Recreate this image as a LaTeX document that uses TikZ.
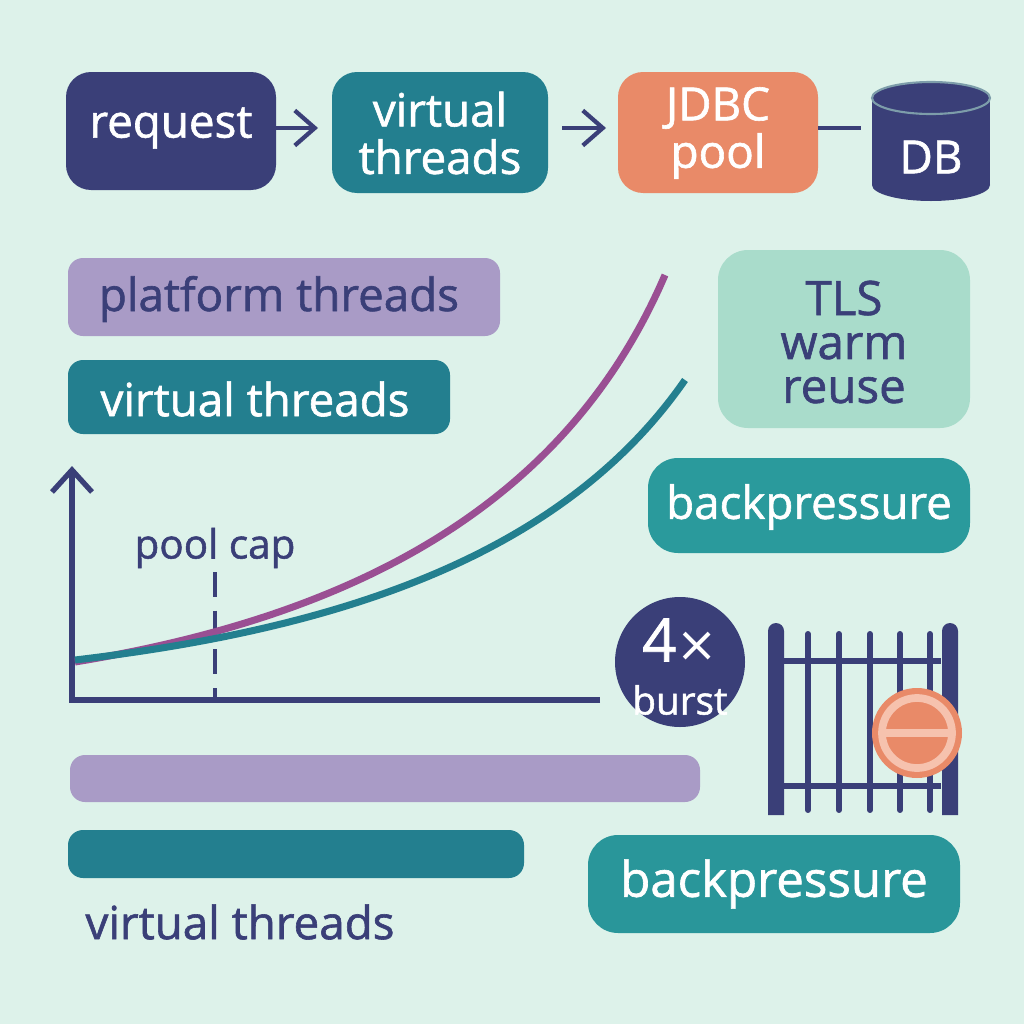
\documentclass[tikz,border=0pt]{standalone}
\usepackage{fontspec}
\setmainfont{Open Sans}[FakeBold=1.3, AutoFakeBold=1.3]
\usetikzlibrary{shapes.geometric,arrows.meta}
\definecolor{bg}{HTML}{DDF2EA}
\definecolor{navy}{HTML}{3A3F78}
\definecolor{teal}{HTML}{237F8F}
\definecolor{tealb}{HTML}{2A9A9C}
\definecolor{orng}{HTML}{E98A68}
\definecolor{lav}{HTML}{A99BC6}
\definecolor{mint}{HTML}{A9DCCB}
\definecolor{peach}{HTML}{F6C2AE}
\definecolor{purp}{HTML}{9A4F93}
\tikzset{
  lbl/.style={align=center, font=\fontsize{13}{13.5}\selectfont},
  bar/.style={rounded corners=1.5mm},
  arr/.style={navy, line width=1.2pt, -{Straight Barb[length=2mm,width=3.5mm]}},
}
\begin{document}
\begin{tikzpicture}[x=0.01cm,y=-0.01cm]
  \fill[bg] (0,0) rectangle (1024,1024);
  \useasboundingbox (0,0) rectangle (1024,1024);

  %top row of boxes
  \fill[navy, rounded corners=2.5mm] (66,72) rectangle (276,190);
  \node[lbl, text=white] (req) at (171,128) {request};
  \fill[teal, rounded corners=2.5mm] (332,72) rectangle (548,193);
  \node[lbl, text=white] (vt) at (440,133) {virtual\\threads};
  \fill[orng, rounded corners=2.5mm] (618,72) rectangle (818,193);
  \node[lbl, text=white] (jdbc) at (718,133) {JDBC\\pool};
  %database
  \fill[navy] (872,98) rectangle (990,185);
  \fill[navy] (931,185) ellipse (59 and 16);
  \fill[navy] (931,98) ellipse (59 and 16);
  \draw[mint!60!navy, line width=0.6pt] (931,98) ellipse (59 and 16);
  \node[lbl, text=white] (db) at (931,157) {DB};
  \coordinate (a1) at (276,128); \coordinate (a2) at (318,128);
  \coordinate (b1) at (562,128); \coordinate (b2) at (606,128);
  \coordinate (c1) at (818,128); \coordinate (c2) at (861,128);
  \draw[arr] (a1) -- (a2);
  \draw[arr] (b1) -- (b2);
  \draw[navy, line width=1.2pt] (c1) -- (c2);

  %thread bars
  \fill[lav, bar] (68,258) rectangle (500,336);
  \node[lbl, text=navy] (pt) at (279,299) {platform threads};
  \fill[teal, bar] (68,360) rectangle (450,434);
  \node[lbl, text=white] (vtb) at (255,399) {virtual threads};
  \fill[mint, rounded corners=3mm] (718,250) rectangle (970,428);
  \node[lbl, text=navy, font=\fontsize{13.5}{12.5}\selectfont] (tls) at (844,342) {TLS\\warm\\reuse};
  \fill[tealb, rounded corners=3mm] (648,458) rectangle (970,553);
  \node[lbl, text=white] (bp1) at (809,507) {backpressure};

  %chart
  \coordinate (o) at (72,700);
  \coordinate (yt) at (72,470);
  \coordinate (xt) at (600,700);
  \draw[navy, line width=1.5pt] (xt) -- (o) -- (yt);
  \draw[navy, line width=1.5pt] (52,492) -- (yt) -- (92,492);
  \node[text=navy, font=\fontsize{11.5}{12}\selectfont] (cap) at (215,548) {pool cap};
  \draw[navy, line width=1.3pt, dash pattern=on 7pt off 4pt] (215,572) -- (215,700);
  \draw[purp, line width=2pt] (75,662) .. controls (330,620) and (560,520) .. (665,275);
  \draw[teal, line width=2pt] (75,660) .. controls (330,630) and (560,560) .. (685,380);

  %burst and fence
  \fill[navy] (680,662) circle (65);
  \node[text=white, font=\fontsize{17}{17}\selectfont] (four) at (680,640) {4{\fontspec{DejaVu Sans}\fontsize{14}{14}\selectfont×}};
  \node[text=white, font=\fontsize{11}{12}\selectfont] (burst) at (680,700) {burst};
  \foreach \x in {808,839,870,900,930}
    \draw[navy, line width=1.7pt, line cap=round] (\x,634) -- (\x,810);
  \foreach \y in {661,786}
    \draw[navy, line width=1.8pt] (784,\y) -- (941,\y);
  \foreach \x in {776,950}
    \fill[navy] (\x-8,815) -- (\x-8,631) arc (180:360:8) -- (\x+8,815) -- cycle;
  \fill[orng] (917,733) circle (45);
  \draw[peach, line width=2.2pt] (917,733) circle (35);
  \draw[peach, line width=2.2pt] (882,733) -- (952,733);

  %bottom bars
  \fill[lav, bar] (70,755) rectangle (700,802);
  \fill[teal, bar] (68,830) rectangle (524,878);
  \node[lbl, text=navy] (vtl) at (240,922) {virtual threads};
  \fill[tealb!85!teal, rounded corners=3mm] (588,835) rectangle (960,933);
  \node[lbl, text=white, font=\fontsize{14}{14}\selectfont] (bp2) at (774,884) {backpressure};
\end{tikzpicture}
\end{document}
